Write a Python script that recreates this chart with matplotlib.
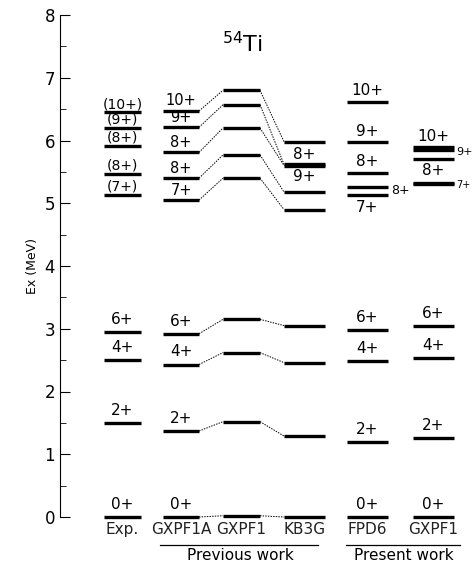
import matplotlib
matplotlib.use("Agg")
import matplotlib.pyplot as plt

columns = ["Exp.", "GXPF1A", "GXPF1", "KB3G", "FPD6", "GXPF1"]
col_x = [(104, 141), (163, 199), (223, 260), (284, 325), (347, 388), (413, 454)]

exp_E = [0, 1.50, 2.50, 2.95, 5.13, 5.47, 5.91, 6.20, 6.45]
exp_L = ["0+", "2+", "4+", "6+", "(7+)", "(8+)", "(8+)", "(9+)", "(10+)"]
gxpf1a_E = [0, 1.37, 2.43, 2.92, 5.05, 5.40, 5.81, 6.21, 6.47]
gxpf1a_L = ["0+", "2+", "4+", "6+", "7+", "8+", "8+", "9+", "10+"]
gxpf1_E = [0.02, 1.52, 2.62, 3.15, 5.40, 5.77, 6.20, 6.57, 6.80]
kb3g_E = [0, 1.29, 2.46, 3.05, 4.90, 5.18, 5.60, 5.62, 5.98]
fpd6_E = [0, 1.20, 2.48, 2.98, 5.13, 5.26, 5.48, 5.97, 6.61]
fpd6_L = ["0+", "2+", "4+", "6+", "7+", "8+", "8+", "9+", "10+"]
gx_new_E = [0, 1.26, 2.53, 3.04, 5.30, 5.33, 5.71, 5.85, 5.90]
gx_new_L = ["0+", "2+", "4+", "6+", "7+", "8+", "", "9+", "10+"]

fig = plt.figure(figsize=(4.74, 5.66), dpi=100)
ax = fig.add_axes([60/474, 49/566, 414/474, 502/566])
ax.set_xlim(60, 474)
ax.set_ylim(0, 8)
for s in ["top", "right", "bottom"]:
    ax.spines[s].set_visible(False)
ax.set_xticks([])
ax.set_yticks(range(9))
ax.set_yticks([i + 0.5 for i in range(8)], minor=True)
ax.tick_params(axis="y", direction="in", length=7, labelsize=12)
ax.tick_params(axis="y", which="minor", direction="in", length=4)
ax.set_ylabel("Ex (MeV)", fontsize=9)

all_E = [exp_E, gxpf1a_E, gxpf1_E, kb3g_E, fpd6_E, gx_new_E]
for (x0, x1), E in zip(col_x, all_E):
    for e in E:
        ax.plot([x0, x1], [e, e], color="black", lw=2.4, solid_capstyle="butt", clip_on=False)

def labels(col, E, L, dy=0.08, fs=11):
    x0, x1 = col_x[col]
    for e, l in zip(E, L):
        if l:
            ax.text((x0 + x1) / 2, e + dy, l, ha="center", va="bottom", fontsize=fs)

labels(0, exp_E[:4], exp_L[:4])
labels(0, exp_E[4:], exp_L[4:], dy=0.02, fs=10)
labels(1, gxpf1a_E[:4], gxpf1a_L[:4])
labels(1, gxpf1a_E[4:], gxpf1a_L[4:], dy=0.04, fs=10.5)
labels(4, fpd6_E[:4], fpd6_L[:4], dy=0.08)
ax.text(367, 5.55, "8+", ha="center", va="bottom", fontsize=11)
ax.text(367, 6.03, "9+", ha="center", va="bottom", fontsize=11)
ax.text(367, 6.67, "10+", ha="center", va="bottom", fontsize=11)
ax.text(367, 5.05, "7+", ha="center", va="top", fontsize=11)
ax.text(391, 5.20, "8+", ha="left", va="center", fontsize=9)
labels(5, gx_new_E[:4], gx_new_L[:4], dy=0.08)
ax.text(433, 5.40, "8+", ha="center", va="bottom", fontsize=11)
ax.text(456, 5.29, "7+", ha="left", va="center", fontsize=7)
ax.text(456, 5.81, "9+", ha="left", va="center", fontsize=8)
ax.text(433, 5.95, "10+", ha="center", va="bottom", fontsize=11)
ax.text(304, 5.66, "8+", ha="center", va="bottom", fontsize=11)
ax.text(304, 5.55, "9+", ha="center", va="top", fontsize=11)

links = [(1, gxpf1a_E, 2, gxpf1_E), (2, gxpf1_E, 3, kb3g_E)]
for c0, E0, c1, E1 in links:
    for a, b in zip(E0, E1):
        ax.plot([col_x[c0][1], col_x[c1][0]], [a, b], color="black", lw=0.7,
                ls=(0, (1.5, 1.2)), clip_on=False)

ax.text(242, 7.55, r"$^{54}$Ti", ha="center", va="center", fontsize=16)

for (x0, x1), n in zip(col_x, columns):
    ax.text((x0 + x1) / 2, -0.08, n, ha="center", va="top", fontsize=11, color="#222222")
ax.plot([160, 318], [-0.45, -0.45], color="black", lw=0.9, clip_on=False)
ax.plot([346, 460], [-0.45, -0.45], color="black", lw=0.9, clip_on=False)
ax.text(240, -0.5, "Previous work", ha="center", va="top", fontsize=11)
ax.text(404, -0.5, "Present work", ha="center", va="top", fontsize=11)

fig.savefig("out.png", dpi=100)
